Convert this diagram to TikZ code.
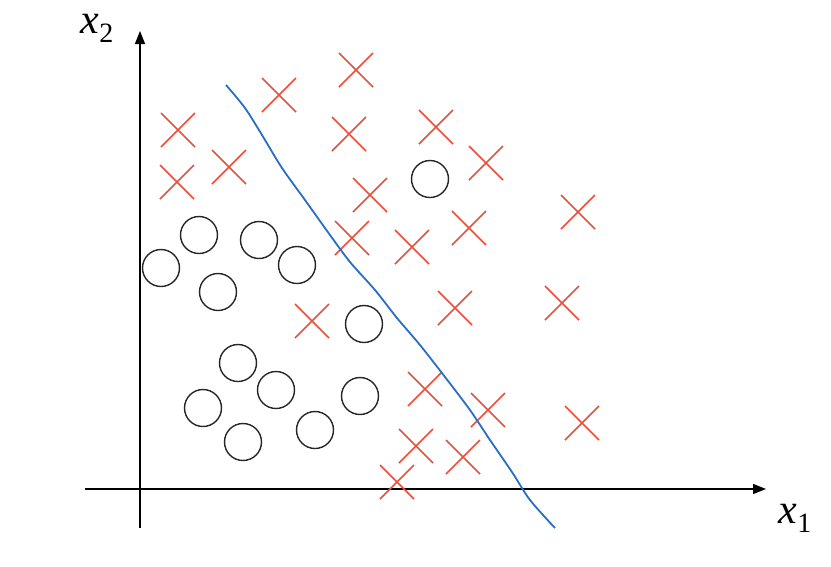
\documentclass[tikz,border=0pt]{standalone}
\usepackage{fontspec}
\setmainfont{Liberation Serif}
\usetikzlibrary{arrows.meta}
\definecolor{xred}{RGB}{232,80,60}
\definecolor{cblue}{RGB}{40,110,195}
\newcommand{\axlab}[1]{\fontsize{42}{42}\selectfont\itshape x\raisebox{-0.22em}{\fontsize{28}{28}\selectfont\upshape #1}}
\begin{document}
\begin{tikzpicture}[x=1pt,y=-1pt,
  crs/.style={draw=xred, line width=1.5pt},
  circ/.style={draw=black!85, line width=1.4pt, circle, minimum size=37pt, inner sep=0pt},
  axis/.style={line width=1.2pt,-{Triangle[length=13pt,width=10pt]}}]
\useasboundingbox (0,0) rectangle (831,566);
\coordinate (yb) at (140,528); \coordinate (yt) at (140,31);
\coordinate (xl) at (85,489); \coordinate (xr) at (766,489);
\draw[axis] (yb) -- (yt);
\draw[axis] (xl) -- (xr);
\node (lx2) at (97,28) {\axlab{2}};
\node (lx1) at (795,518) {\axlab{1}};
\foreach \x/\y [count=\i] in {356/70,279/95,178/130,349/134,436/127,486/163,177/182,229/167,370/195,578/212,469/228,352/238,412/247,455/308,562/303,312/321,425/389,488/410,582/423,416/446,463/457,397/482}
  \draw[crs] (\x-17,\y-17) -- (\x+17,\y+17) (\x-17,\y+17) -- (\x+17,\y-17);
\foreach \x/\y [count=\i] in {430/179,199/235,259/240,161/268,297/265,218/292,364/324,238/363,276/390,360/396,203/408,315/430,243/442}
  \node[circ] (c\i) at (\x,\y) {};
\draw[cblue, line width=1.8pt] plot[smooth] coordinates {(226,85) (245,108) (262,135) (282,168) (305,200) (330,235) (350,262) (375,290) (397,318) (420,345) (445,377) (470,410) (490,440) (512,472) (530,500) (555,528)};
\end{tikzpicture}
\end{document}
